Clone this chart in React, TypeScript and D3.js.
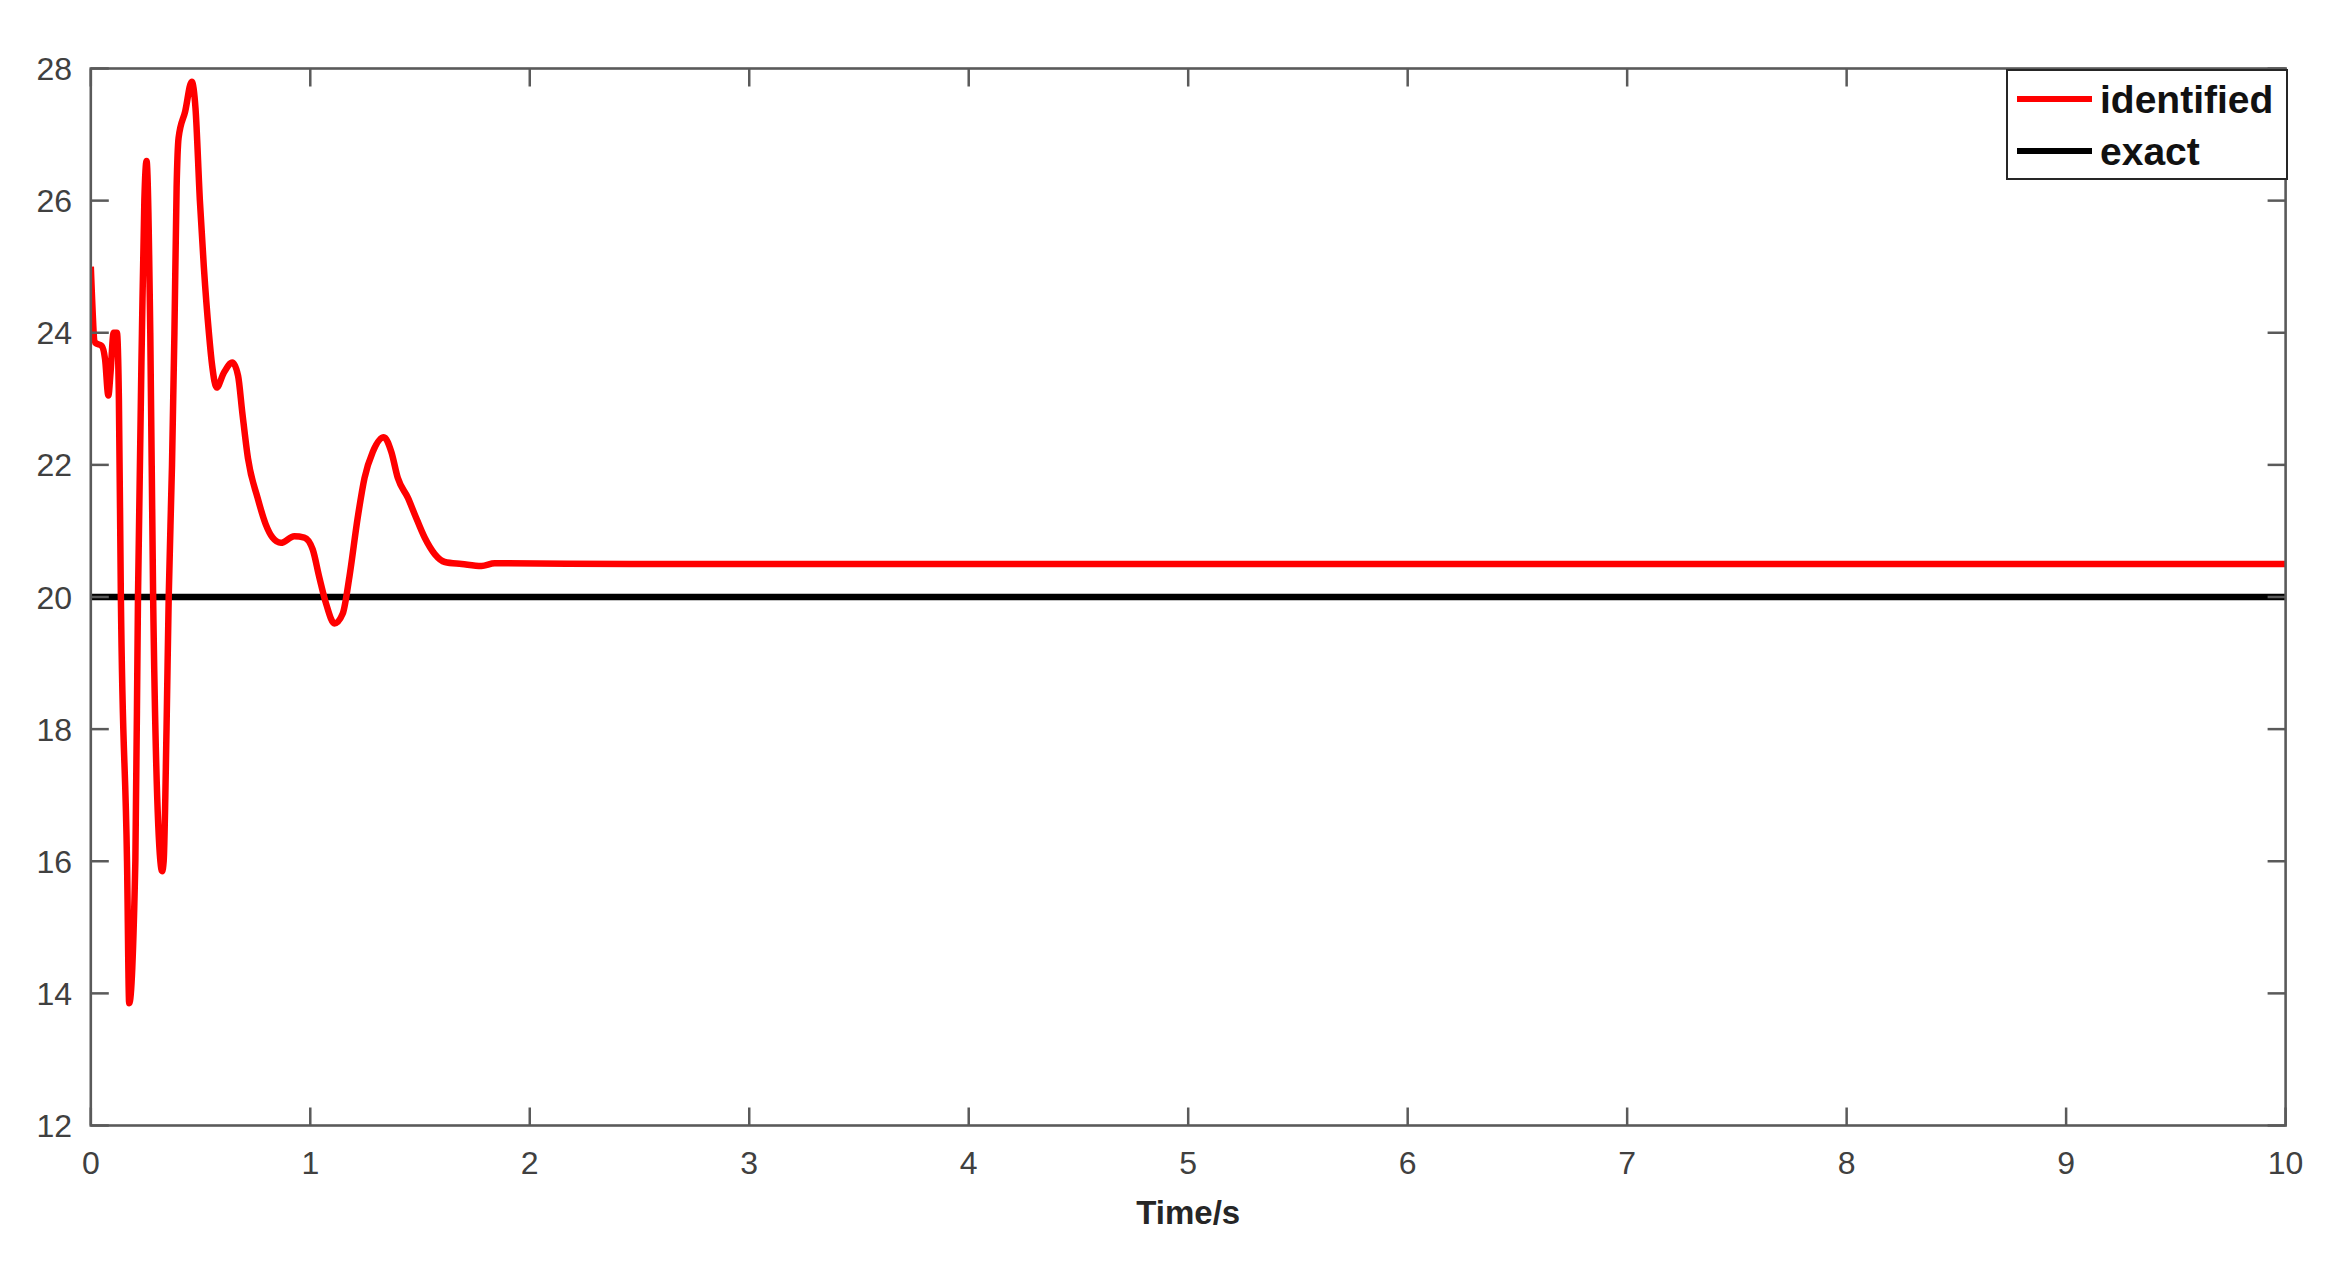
import React from "react";
import * as d3 from "d3";

const timeS = [
  0, 0.02, 0.05, 0.065, 0.08, 0.09, 0.104, 0.119, 0.128, 0.137, 0.165, 0.175,
  0.203, 0.215, 0.233, 0.244, 0.254, 0.271, 0.284, 0.317, 0.325, 0.332, 0.345,
  0.355, 0.37, 0.381, 0.391, 0.40, 0.43, 0.46, 0.477, 0.497, 0.515, 0.538,
  0.553, 0.573, 0.607, 0.645, 0.671, 0.69, 0.716, 0.76, 0.797, 0.828, 0.866,
  0.927, 0.973, 1.011, 1.041, 1.072, 1.11, 1.148, 1.178, 1.216, 1.247, 1.285,
  1.335, 1.369, 1.399, 1.445, 1.476, 1.521, 1.567, 1.613, 1.69, 1.78, 1.84,
  2.5, 3, 4, 5, 6, 7, 8, 9, 10,
];
const identified = [
  25.0, 23.85, 23.8, 23.6, 23.05, 23.4, 24.0, 24.0, 23.0, 20.0, 16.0, 13.85,
  16.0, 20.0, 24.0, 26.0, 26.6, 24.0, 20.0, 16.0, 15.85, 16.0, 18.0,
  20.0, 22.0, 24.0, 26.2, 26.95, 27.35, 27.8, 27.4, 26.0, 25.0, 24.0,
  23.5, 23.17, 23.4, 23.55, 23.35, 22.8, 22.1, 21.5, 21.1, 20.9, 20.82,
  20.92, 20.9, 20.72, 20.3, 19.9, 19.6, 19.75, 20.3, 21.2, 21.8, 22.2,
  22.42, 22.2, 21.8, 21.5, 21.25, 20.9, 20.65, 20.53, 20.5, 20.47, 20.51,
  20.5, 20.5, 20.5, 20.5, 20.5, 20.5, 20.5, 20.5, 20.5,
];
const exactTime = [0, 10];
const exactValue = [20, 20];
const xTicks = [0, 1, 2, 3, 4, 5, 6, 7, 8, 9, 10];
const yTicks = [12, 14, 16, 18, 20, 22, 24, 26, 28];
const legendLabels = ["identified", "exact"];
const xLabel = "Time/s";

const W = 2335;
const H = 1262;
const L = 90.8;
const R = 2285.6;
const T = 68.5;
const B = 1125.5;
const FONT = "'Liberation Sans', Arial, Helvetica, sans-serif";
const AXIS = "#5a5a5a";
const TXT = "#404040";

export default function App() {
  const x = d3.scaleLinear().domain([0, 10]).range([L, R]);
  const y = d3.scaleLinear().domain([12, 28]).range([B, T]);
  const line = d3
    .line<[number, number]>()
    .x((d) => x(d[0]))
    .y((d) => y(d[1]))
    .curve(d3.curveMonotoneX);
  const redPts = timeS.map((t, i) => [t, identified[i]] as [number, number]);
  const blackPts = exactTime.map((t, i) => [t, exactValue[i]] as [number, number]);
  const tickLen = 18;

  return (
    <svg
      width={W}
      height={H}
      style={{ position: "absolute", left: 0, top: 0, background: "#fff" }}
      fontFamily={FONT}
    >
      <rect x={0} y={0} width={W} height={H} fill="#fff" />
      <defs>
        <clipPath id="plot">
          <rect x={L} y={T} width={R - L} height={B - T} />
        </clipPath>
      </defs>
      <g clipPath="url(#plot)">
        <path d={line(blackPts) || ""} fill="none" stroke="#000" strokeWidth={6.5} />
        <path
          d={line(redPts) || ""}
          fill="none"
          stroke="#ff0000"
          strokeWidth={6.5}
          strokeLinejoin="round"
        />
      </g>
      <rect x={L} y={T} width={R - L} height={B - T} fill="none" stroke={AXIS} strokeWidth={2.6} />
      {xTicks.map((t) => (
        <g key={"x" + t}>
          <line x1={x(t)} x2={x(t)} y1={B} y2={B - tickLen} stroke={AXIS} strokeWidth={2.5} />
          <line x1={x(t)} x2={x(t)} y1={T} y2={T + tickLen} stroke={AXIS} strokeWidth={2.5} />
          <text x={x(t)} y={B + 48} textAnchor="middle" fontSize={32} fill={TXT}>
            {t}
          </text>
        </g>
      ))}
      {yTicks.map((v) => (
        <g key={"y" + v}>
          <line x1={L} x2={L + tickLen} y1={y(v)} y2={y(v)} stroke={AXIS} strokeWidth={2.5} />
          <line x1={R} x2={R - tickLen} y1={y(v)} y2={y(v)} stroke={AXIS} strokeWidth={2.5} />
          <text x={72} y={y(v) + 11.5} textAnchor="end" fontSize={32} fill={TXT}>
            {v}
          </text>
        </g>
      ))}
      <text
        x={(L + R) / 2}
        y={1224}
        textAnchor="middle"
        fontSize={33}
        fontWeight="bold"
        fill="#262626"
      >
        {xLabel}
      </text>
      <g>
        <rect x={2007} y={70} width={280} height={109} fill="#fff" stroke="#262626" strokeWidth={2} />
        <line x1={2017} x2={2092} y1={99} y2={99} stroke="#ff0000" strokeWidth={6} />
        <line x1={2017} x2={2092} y1={151} y2={151} stroke="#000" strokeWidth={6} />
        <text x={2100} y={113} fontSize={39} fontWeight="bold" fill="#111">
          {legendLabels[0]}
        </text>
        <text x={2100} y={165} fontSize={39} fontWeight="bold" fill="#111">
          {legendLabels[1]}
        </text>
      </g>
    </svg>
  );
}
